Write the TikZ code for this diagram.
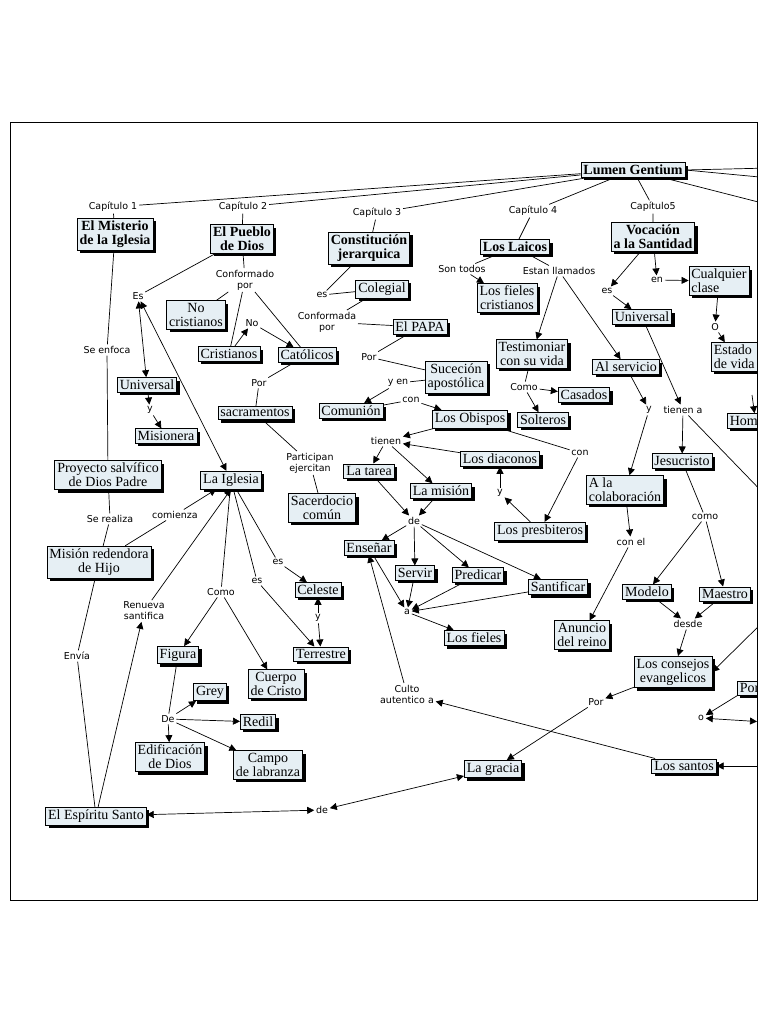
\documentclass[tikz,border=0pt]{standalone}
\usepackage{fontspec}
\setmainfont{Liberation Serif}
\newfontfamily\lblfont{DejaVu Sans}
\usetikzlibrary{shadows,arrows.meta}
\definecolor{boxbg}{HTML}{E6EFF4}
\begin{document}
\begin{tikzpicture}[x=1pt,y=-1pt,
 box/.style={draw,fill=boxbg,font=\fontsize{14}{14}\selectfont,inner sep=2.5pt,align=center,
   general shadow={fill=black,shadow xshift=3pt,shadow yshift=-3pt}},
 bbox/.style={box,font=\fontsize{14}{14}\selectfont\bfseries},
 lbl/.style={font=\lblfont\fontsize{9.5}{11}\selectfont,inner sep=1.5pt,align=center},
 ar/.style={-{Triangle[length=7pt,width=7pt]}},
 ba/.style={{Triangle[length=7pt,width=7pt]}-{Triangle[length=7pt,width=7pt]}},
 line width=0.7pt]
\useasboundingbox (0,0) rectangle (768,1024);
\begin{scope}
\clip (10,123) rectangle (757,900);
% top
\node[bbox] (lg) at (633,170) {Lumen Gentium};
\node[lbl] (c1) at (113,207) {Capítulo 1};
\node[lbl] (c2) at (243,207) {Capítulo 2};
\node[lbl] (c3) at (377,213) {Capítulo 3};
\node[lbl] (c4) at (533,211) {Capítulo 4};
\node[lbl] (c5) at (653,207) {Capítulo5};
\node[bbox] (mis) at (115,234) {El Misterio\\de la Iglesia};
\node[bbox] (pue) at (242,239) {El Pueblo\\de Dios};
\node[bbox] (con) at (369,248) {Constitución\\jerarquica};
\node[bbox] (lai) at (515,247) {Los Laicos};
\node[bbox] (voc) at (653,237) {Vocación\\a la Santidad};
\coordinate (r1) at (770,168); \coordinate (r2) at (770,178); \coordinate (r3) at (770,205);
\draw (lg) -- (c1) (c1) -- (mis);
\draw (lg) -- (c2) (c2) -- (pue);
\draw (lg) -- (c3) (c3) -- (con);
\draw (lg) -- (c4) (c4) -- (lai);
\draw (lg) -- (c5) (c5) -- (voc);
\draw (lg.east) -- (r1); \draw (lg.east) -- (r2); \draw (lg) -- (r3);
\node[box,anchor=west] (rb1) at (757,260) {\phantom{X}\\\phantom{X}};
% left column
\node[lbl] (es1) at (138,296) {Es};
\node[lbl] (conf) at (245,280) {Conformado\\por};
\node[box] (noc) at (196,315) {No\\cristianos};
\node[lbl] (no) at (252,323) {No};
\node[box] (cri) at (229,354) {Cristianos};
\node[box] (cat) at (307,355) {Católicos};
\node[lbl] (senf) at (107,350) {Se enfoca};
\node[box] (uni) at (147,385) {Universal};
\node[lbl] (y1) at (150,410) {y};
\node[box] (misi) at (166,436) {Misionera};
\node[lbl] (por1) at (259,383) {Por};
\node[box] (sac) at (255,413) {sacramentos};
\node[lbl] (part) at (310,463) {Participan\\ejercitan};
\node[box] (sacc) at (322,508) {Sacerdocio\\común};
\node[box] (pro) at (108,475) {Proyecto salvífico\\de Dios Padre};
\node[box] (igl) at (231,480) {La Iglesia};
\draw (mis) -- (senf) (senf) -- (pro);
\draw (pue) -- (es1);
\draw[ba] (es1) -- (uni);
\draw[ar] (uni) -- (y1); \draw[ar] (y1) -- (misi);
\draw[ba] (es1) -- (igl);
\draw (pue) -- (conf);
\draw (conf) -- (noc); \draw (conf) -- (cri); \draw (conf) -- (cat);
\draw[ar] (cri) -- (no); \draw[ar] (no) -- (cat);
\draw (cat) -- (por1) (por1) -- (sac) (sac) -- (part) (part) -- (sacc);
\node[lbl] (sere) at (110,519) {Se realiza};
\node[lbl] (com) at (175,515) {comienza};
\node[box] (mred) at (99,562) {Misión redendora\\de Hijo};
\node[lbl] (ren) at (144,611) {Renueva\\santifica};
\node[lbl] (env) at (77,656) {Envía};
\node[box] (es) at (96,816) {El Espíritu Santo};
\draw (pro) -- (sere) (sere) -- (mred);
\draw (mred) -- (com); \draw[ar] (com) -- (igl);
\draw (mred) -- (env) (env) -- (es);
\draw[ar] (es) -- (ren); \draw[ar] (ren) -- (igl.south);
\node[lbl] (como1) at (221,592) {Como};
\node[lbl] (es2) at (278,562) {es};
\node[lbl] (es3) at (257,581) {es};
\node[box] (cel) at (318,590) {Celeste};
\node[lbl] (y2) at (318,618) {y};
\node[box] (ter) at (321,654) {Terrestre};
\node[box] (fig) at (178,655) {Figura};
\node[box] (cue) at (276,684) {Cuerpo\\de Cristo};
\node[box] (gre) at (210,692) {Grey};
\node[lbl] (de1) at (168,719) {De};
\node[box] (red) at (258,722) {Redil};
\node[box] (edi) at (170,757) {Edificación\\de Dios};
\node[box] (cam) at (268,765) {Campo\\de labranza};
\draw (igl) -- (como1); \draw[ar] (como1) -- (fig); \draw[ar] (como1) -- (cue);
\draw (igl) -- (es2); \draw[ar] (es2) -- (cel);
\draw (igl) -- (es3); \draw[ar] (es3) -- (ter);
\draw[ar] (y2) -- (cel); \draw[ar] (y2) -- (ter);
\draw (fig) -- (de1);
\draw[ar] (de1) -- (gre); \draw[ar] (de1) -- (red); \draw[ar] (de1) -- (edi); \draw[ar] (de1) -- (cam);
% middle
\node[lbl] (es4) at (322,295) {es};
\node[box] (col) at (382,289) {Colegial};
\node[lbl] (cfp) at (327,322) {Conformada\\por};
\node[box] (papa) at (420,327) {El PAPA};
\node[lbl] (por2) at (369,357) {Por};
\node[box] (suc) at (456,377) {Suceción\\apostólica};
\node[lbl] (yen) at (398,383) {y en};
\node[box] (comu) at (351,411) {Comunión};
\node[lbl] (con1) at (411,400) {con};
\node[box] (obi) at (470,419) {Los Obispos};
\node[lbl] (tie) at (386,441) {tienen};
\node[box] (dia) at (500,459) {Los diaconos};
\node[box] (tar) at (369,471) {La tarea};
\node[box] (msn) at (441,491) {La misión};
\node[lbl] (y3) at (500,493) {y};
\node[lbl] (de2) at (414,521) {de};
\node[box] (pre) at (540,531) {Los presbiteros};
\node[lbl] (con2) at (580,453) {con};
\draw (con) -- (es4) (es4) -- (col);
\draw (col) -- (cfp) (cfp) -- (papa);
\draw (papa) -- (por2) (por2) -- (suc);
\draw (suc) -- (yen); \draw[ar] (yen) -- (comu);
\draw (comu) -- (con1); \draw[ar] (con1) -- (obi);
\draw[ar] (obi) -- (tie); \draw[ar] (dia) -- (tie);
\draw[ar] (tie) -- (tar); \draw[ar] (tie) -- (msn);
\draw (obi) -- (con2); \draw[ar] (con2) -- (pre);
\draw[ar] (pre) -- (y3); \draw[ar] (y3) -- (dia);
\draw[ar] (tar) -- (de2); \draw[ar] (msn) -- (de2);
\node[box] (ens) at (369,548) {Enseñar};
\node[box] (ser) at (415,573) {Servir};
\node[box] (prd) at (478,575) {Predicar};
\node[box] (san) at (558,587) {Santificar};
\node[lbl] (a1) at (407,612) {a};
\node[box] (fie) at (474,638) {Los fieles};
\draw[ar] (de2) -- (ens); \draw[ar] (de2) -- (ser); \draw[ar] (de2) -- (prd); \draw[ar] (de2) -- (san);
\draw[ar] (ens) -- (a1); \draw[ar] (ser) -- (a1); \draw[ar] (prd) -- (a1); \draw[ar] (san) -- (a1);
\draw[ar] (a1) -- (fie);
\node[lbl] (cul) at (407,694) {Culto\\autentico a};
\draw[ar] (cul) -- (ens.south);
\node[lbl] (de3) at (322,810) {de};
\node[box] (gra) at (493,769) {La gracia};
\draw[ba] (es) -- (de3); \draw[ba] (de3) -- (gra);
% laicos
\node[lbl] (sto) at (462,269) {Son todos};
\node[lbl] (ell) at (559,271) {Estan llamados};
\node[box] (fcr) at (507,298) {Los fieles\\cristianos};
\node[box] (tes) at (532,354) {Testimoniar\\con su vida};
\node[lbl] (como2) at (524,387) {Como};
\node[box] (cas) at (584,395) {Casados};
\node[box] (sol) at (543,420) {Solteros};
\node[box] (als) at (626,367) {Al servicio};
\node[lbl] (y4) at (649,410) {y};
\node[box,align=left] (cola) at (625,490) {A la\\colaboración};
\node[lbl] (conel) at (631,542) {con el};
\node[box] (anu) at (582,635) {Anuncio\\del reino};
\draw (lai) -- (sto); \draw[ar] (sto) -- (fcr);
\draw (lai) -- (ell); \draw[ar] (ell) -- (tes); \draw[ar] (ell) -- (als);
\draw (tes) -- (como2); \draw[ar] (como2) -- (cas); \draw[ar] (como2) -- (sol);
\draw[ar] (als) -- (y4); \draw[ar] (y4) -- (cola);
\draw[ar] (cola) -- (conel); \draw[ar] (conel) -- (anu);
% vocacion
\node[lbl] (es5) at (607,291) {es};
\node[box] (uni2) at (642,317) {Universal};
\node[lbl] (en) at (657,280) {en};
\node[box,align=left] (cua) at (719,281) {Cualquier\\clase};
\node[lbl] (o1) at (715,327) {O};
\node[box,align=left,anchor=west] (est) at (711,357) {Estado\\de vida};
\node[lbl] (tia) at (683,410) {tienen a};
\node[box,anchor=west] (hom) at (727,421) {Hombres};
\node[box] (jes) at (682,461) {Jesucristo};
\node[lbl] (como3) at (705,517) {como};
\node[box] (mod) at (647,592) {Modelo};
\node[box] (mae) at (725,594) {Maestro};
\node[lbl] (des) at (688,624) {desde};
\node[box] (cons) at (673,672) {Los consejos\\evangelicos};
\node[lbl] (por3) at (596,702) {Por};
\node[box] (sant) at (684,766) {Los santos};
\node[box,anchor=west] (pob) at (737,688) {Por};
\node[lbl] (o2) at (701,718) {o};
\node[box,anchor=west] (rb2) at (757,722) {\phantom{X}};
\coordinate (rt) at (770,500);
\coordinate (rc) at (770,615);
\coordinate (rs) at (770,766);
\coordinate (rh) at (752,395);
\draw[ar] (voc) -- (es5); \draw[ar] (es5) -- (uni2);
\draw[ar] (voc) -- (en); \draw[ar] (en) -- (cua);
\draw[ar] (cua) -- (o1); \draw[ar] (o1) -- (est);
\draw[ar] (uni2) -- (tia); \draw[ar] (tia) -- (jes); \draw (tia) -- (rt);
\draw[ar] (rh) -- (hom);
\draw (jes) -- (como3); \draw[ar] (como3) -- (mod); \draw[ar] (como3) -- (mae);
\draw[ar] (mod) -- (des); \draw[ar] (mae) -- (des); \draw[ar] (des) -- (cons);
\draw[ar] (rc) -- (cons.east);
\draw[ar] (cons) -- (por3); \draw[ar] (por3) -- (gra);
\draw[ar] (pob) -- (o2); \draw[ba] (o2) -- (rb2);
\draw[ar] (rs) -- (sant);
\draw[ar] (sant) -- (cul);
\end{scope}
\draw[line width=1pt] (10,123) rectangle (757,900);
\end{tikzpicture}
\end{document}
